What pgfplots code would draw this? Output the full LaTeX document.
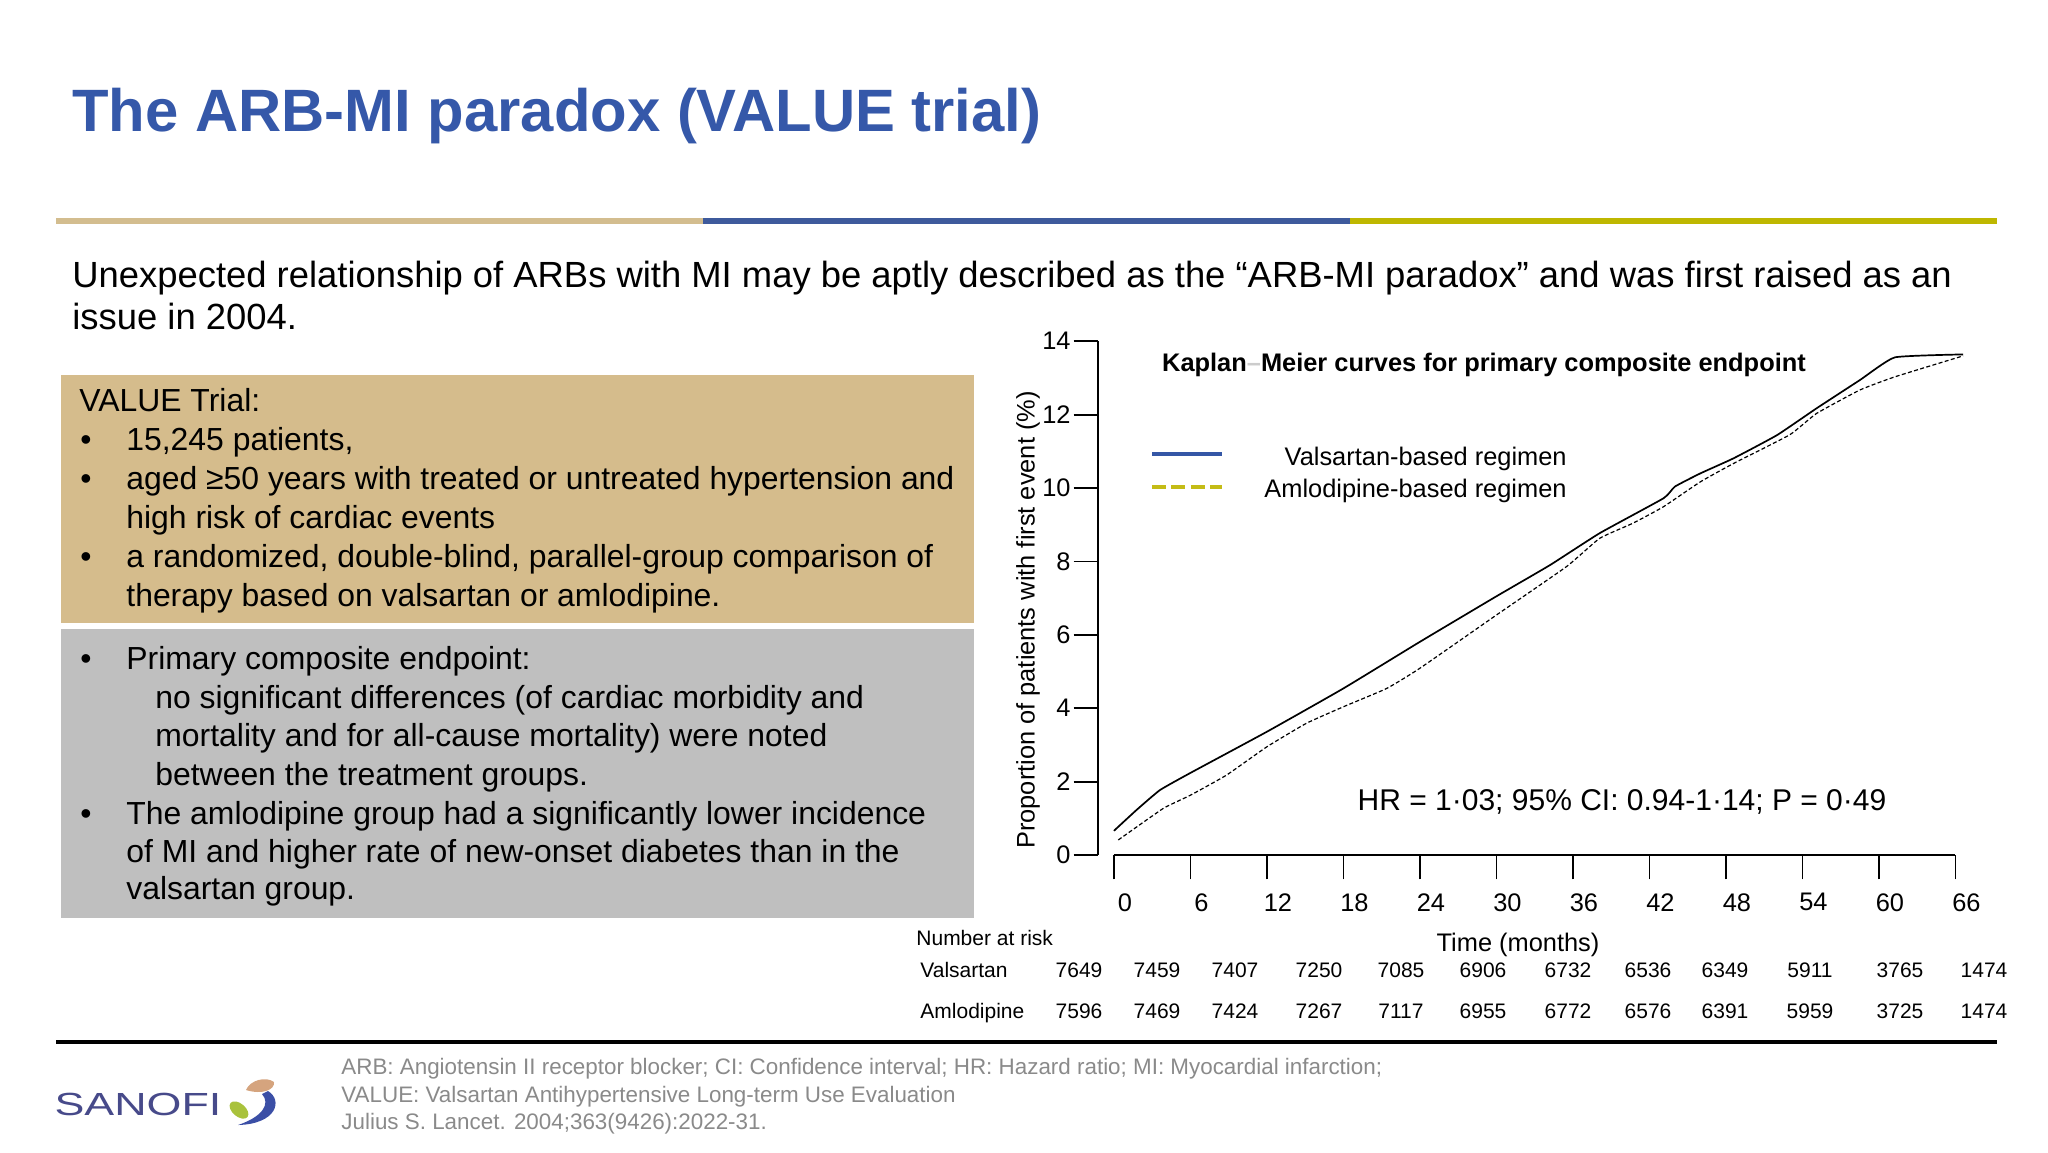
\documentclass[border=0pt]{standalone}
\usepackage{pgfplots}
\pgfplotsset{compat=1.18}
\usepackage{fontspec}
\setmainfont{Liberation Sans}

\definecolor{titleblue}{HTML}{3558A9}
\definecolor{ruletan}{HTML}{D3BD8F}
\definecolor{ruleblue}{HTML}{3E5A9C}
\definecolor{ruleolive}{HTML}{BEB700}
\definecolor{boxtan}{HTML}{D5BC8C}
\definecolor{boxgray}{HTML}{BFBFBF}
\definecolor{legblue}{HTML}{3557A6}
\definecolor{legolive}{HTML}{C4BC16}
\definecolor{footgray}{HTML}{8A8A8A}
\definecolor{logoblue}{HTML}{474A8A}
\definecolor{logotan}{HTML}{D5A47E}
\definecolor{logogreen}{HTML}{A9C23C}
\definecolor{logoswoosh}{HTML}{3B4FA6}

\newcommand\titlefont{\fontsize{29.9}{36}\selectfont\bfseries}
\newcommand\introfont{\fontsize{18.2}{21}\selectfont}
\newcommand\boxfont{\fontsize{15.95}{18}\selectfont}
\newcommand\chartfont{\fontsize{12.7}{15}\selectfont}
\newcommand\hrfont{\fontsize{15}{18}\selectfont}
\newcommand\tabfont{\fontsize{10.5}{12.5}\selectfont}
\newcommand\footfont{\fontsize{11.2}{13.5}\selectfont}

\begin{document}
\begin{tikzpicture}
\begin{scope}[x=0.5pt,y=-0.5pt]
  \fill[white] (0,0) rectangle (2048,1152);
  \useasboundingbox (0,0) rectangle (2048,1152);

  % slide title and tricolour rule
  \node[anchor=base west, inner sep=0, text=titleblue, font=\titlefont] at (72,131) {The ARB-MI paradox (VALUE trial)};
  \fill[ruletan]   (56,218) rectangle (703,224);
  \fill[ruleblue]  (703,218) rectangle (1350,224);
  \fill[ruleolive] (1350,218) rectangle (1997,224);

  % introduction
  \node[anchor=base west, inner sep=0, font=\introfont] at (72,287) {Unexpected relationship of ARBs with MI may be aptly described as the “ARB-MI paradox” and was first raised as an};
  \node[anchor=base west, inner sep=0, font=\introfont] at (72,329) {issue in 2004.};

  % study boxes
  \fill[boxtan]  (61,375) rectangle (974,623);
  \fill[boxgray] (61,629) rectangle (974,918);
  \begin{scope}[every node/.style={anchor=base west, inner sep=0, font=\boxfont}]
    \node at (79,411) {VALUE Trial:};
    \node at (80,450) {•}; \node at (126,450) {15,245 patients,};
    \node at (80,489) {•}; \node at (126,489) {aged ≥50 years with treated or untreated hypertension and};
    \node at (126,528) {high risk of cardiac events};
    \node at (80,567) {•}; \node at (126,567) {a randomized, double-blind, parallel-group comparison of};
    \node at (126,606) {therapy based on valsartan or amlodipine.};
    \node at (80,669) {•}; \node at (126,669) {Primary composite endpoint:};
    \node at (155,708) {no significant differences (of cardiac morbidity and};
    \node at (155,746) {mortality and for all-cause mortality) were noted};
    \node at (155,785) {between the treatment groups.};
    \node at (80,824) {•}; \node at (126,824) {The amlodipine group had a significantly lower incidence};
    \node at (126,862) {of MI and higher rate of new-onset diabetes than in the};
    \node at (126,899) {valsartan group.};
  \end{scope}

  % chart annotations
  \node[rotate=90, font=\chartfont, inner sep=0] at (1028,620) {Proportion of patients with first event (\%)};
  \node[anchor=base, inner sep=0, font=\chartfont\bfseries] at (1484,371) {Kaplan{\color{black!20}–}Meier curves for primary composite endpoint};
  \draw[legblue, line width=2.2pt] (1152,454) -- (1222,454);
  \draw[legolive, line width=2.2pt, dash pattern=on 7pt off 2.7pt] (1152,487) -- (1222,487);
  \node[anchor=base east, inner sep=0, font=\chartfont] at (1567,465) {Valsartan-based regimen};
  \node[anchor=base east, inner sep=0, font=\chartfont] at (1567,497) {Amlodipine-based regimen};
  \node[anchor=base, inner sep=0, font=\hrfont] at (1622,810) {HR = 1·03; 95\% CI: 0.94-1·14; P = 0·49};
  \node[anchor=base, inner sep=0, font=\chartfont] at (1518,951) {Time (months)};

  % numbers at risk
  \node[anchor=base west, inner sep=0, font=\tabfont] at (916,945) {Number at risk};
  \node[anchor=base west, inner sep=0, font=\tabfont] at (920,977) {Valsartan};
  \node[anchor=base west, inner sep=0, font=\tabfont] at (920,1018) {Amlodipine};
  \foreach \x/\v/\w in {1079/7649/7596, 1157/7459/7469, 1235/7407/7424, 1319/7250/7267,
                        1401/7085/7117, 1483/6906/6955, 1568/6732/6772, 1648/6536/6576,
                        1725/6349/6391, 1810/5911/5959, 1900/3765/3725, 1984/1474/1474} {
    \node[anchor=base, inner sep=0, font=\tabfont] at (\x,977) {\v};
    \node[anchor=base, inner sep=0, font=\tabfont] at (\x,1018) {\w};
  }

  % footer
  \fill[black] (56,1039.5) rectangle (1997,1043.5);
  \node[anchor=base west, inner sep=0, text=footgray, font=\footfont] at (341,1074) {ARB: Angiotensin II receptor blocker; CI: Confidence interval; HR: Hazard ratio; MI: Myocardial infarction;};
  \node[anchor=base west, inner sep=0, text=footgray, font=\footfont] at (341,1102) {VALUE: Valsartan Antihypertensive Long-term Use Evaluation};
  \node[anchor=base west, inner sep=0, text=footgray, font=\footfont] at (341,1129) {Julius S. Lancet. 2004;363(9426):2022-31.};

  % logo
  \node[anchor=base west, inner sep=0, text=logoblue, font=\fontsize{16}{19}\selectfont, xscale=1.40] at (54,1115) {SANOFI};
  \fill[logotan] (246,1090) .. controls (250,1080) and (266,1076) .. (274,1082)
                 .. controls (275,1090) and (262,1095) .. (246,1090) -- cycle;
  \fill[logogreen, rotate around={-40:(239,1110)}] (239,1110) ellipse (11 and 6.5);
  \fill[logoswoosh] (268,1091) .. controls (283,1100) and (277,1124) .. (238,1125)
                    .. controls (262,1117) and (271,1104) .. (262,1094) -- cycle;

  \coordinate (O) at (1098,855);
\end{scope}

\begin{axis}[
  at={(O)}, anchor=south west,
  x=6.375pt, y=18.35pt,
  xmin=-1.25, xmax=67, ymin=0, ymax=14,
  axis x line*=bottom, axis y line*=left,
  x axis line style={draw=none},
  y axis line style={line width=0.9pt},
  xtick={0,6,...,66}, ytick={0,2,...,14},
  tick align=outside,
  major tick length=12.2pt,
  tick style={black, line width=0.9pt},
  ticklabel style={font=\chartfont},
  xticklabel style={xshift=5.5pt, yshift=-3.5pt},
  yticklabel style={xshift=2pt},
  /pgf/number format/assume math mode=true,
  clip=false,
]
  \draw[line width=0.9pt] (axis cs:0,0) -- (axis cs:66,0);
  % Valsartan-based regimen
  \addplot[black, line width=0.85pt, smooth, tension=0.25] coordinates {
    (0,0.66) (1.78,1.23) (3.61,1.77) (5.96,2.23) (12,3.36) (18,4.54) (24,5.81)
    (30,7.05) (34.2,7.9) (38.1,8.77) (43.1,9.72) (44,10.04) (46,10.4) (48.6,10.81)
    (52,11.44) (55.1,12.17) (58.5,12.94) (61.25,13.56) (66.6,13.64)
  };
  % Amlodipine-based regimen
  \addplot[black, line width=0.6pt, dash pattern=on 2pt off 1.2pt, smooth, tension=0.25] coordinates {
    (0.34,0.41) (3.87,1.27) (6,1.63) (8.84,2.18) (12,2.95) (15.1,3.59) (18,4.04)
    (21.4,4.54) (24,5.09) (30,6.54) (35.5,7.86) (38.1,8.63) (40.7,9.04) (43.1,9.49)
    (46,10.17) (48.6,10.67) (53,11.45) (55.1,12.03) (58.5,12.67) (61.25,13.03) (66.6,13.6)
  };
\end{axis}
\end{tikzpicture}
\end{document}
